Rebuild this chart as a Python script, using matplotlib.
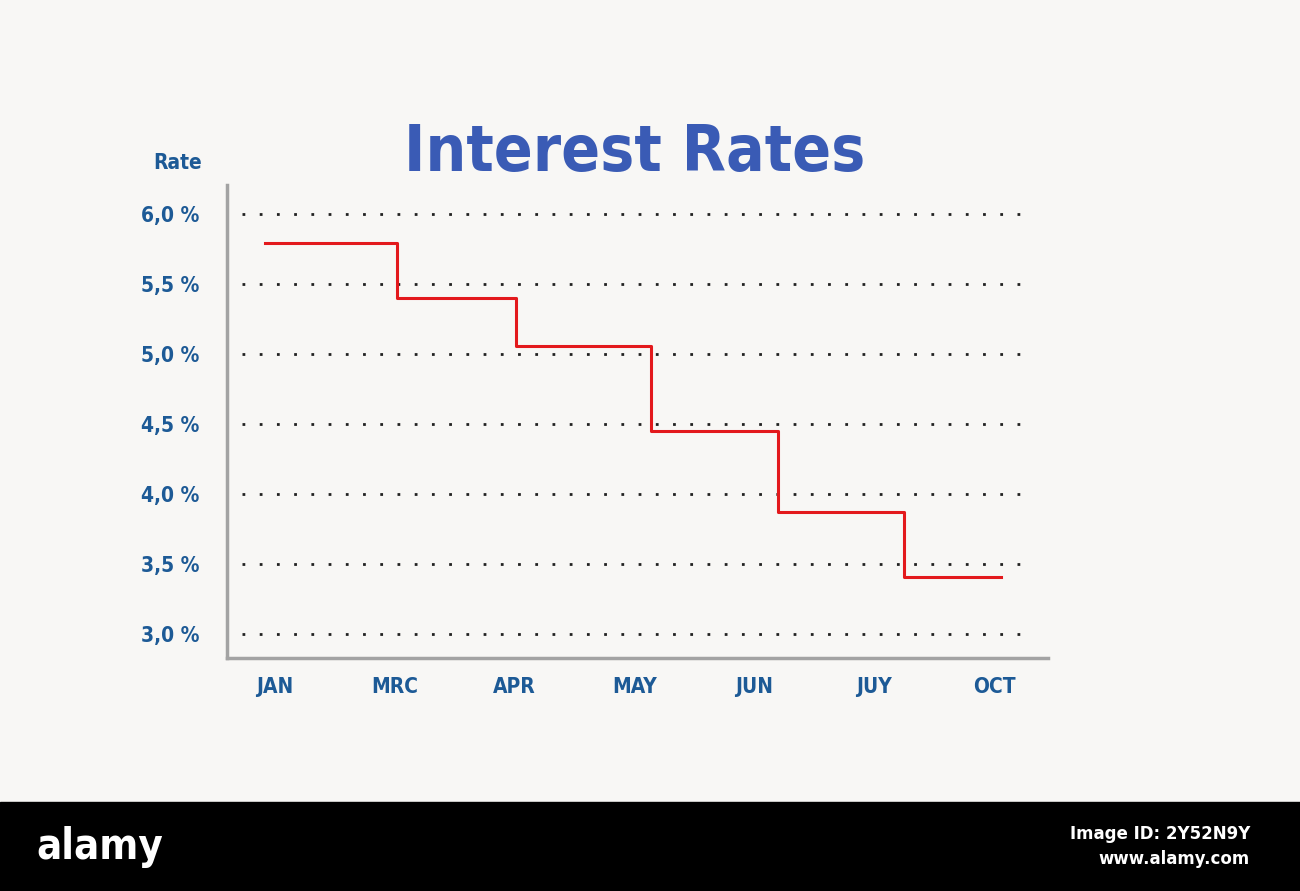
import matplotlib
matplotlib.use('Agg')
import matplotlib.pyplot as plt

months = ['JAN', 'MRC', 'APR', 'MAY', 'JUN', 'JUY', 'OCT']
step_x = [-0.08, 1.02, 2.01, 3.14, 4.2, 5.25, 6.06]
step_y = [5.79, 5.40, 5.06, 4.45, 3.87, 3.41, 3.41]
rate_ticks = [3.0, 3.5, 4.0, 4.5, 5.0, 5.5, 6.0]
rate_labels = ['3,0 %', '3,5 %', '4,0 %', '4,5 %', '5,0 %', '5,5 %', '6,0 %']

fam = ['DejaVu Sans']
blue = '#1d5a96'
bg = '#f8f7f5'

fig = plt.figure(figsize=(13, 8.91), dpi=100)
fig.patch.set_facecolor(bg)
ax = fig.add_axes([227/1300, 233/891, 821/1300, 473/891])
ax.set_facecolor(bg)

ax.hlines(rate_ticks, -0.275, 6.22, colors='#222222', lw=2.0,
          linestyles=[(0, (1, 5.2))])
ax.plot(step_x, step_y, drawstyle='steps-post', color='#e3191c', lw=2.2)

ax.set_xlim(-0.4, 6.45)
ax.set_ylim(2.829, 6.207)
ax.set_xticks(range(len(months)))
ax.set_xticklabels(months)
ax.set_yticks(rate_ticks)
ax.set_yticklabels(rate_labels)
ax.tick_params(length=0, pad=14, colors=blue, labelsize=15)
ax.tick_params(axis='y', pad=20)
for lab in ax.get_xticklabels() + ax.get_yticklabels():
    lab.set_family(fam); lab.set_fontweight('bold'); lab.set_fontstretch('condensed')
for s in ['top', 'right']:
    ax.spines[s].set_visible(False)
for s in ['left', 'bottom']:
    ax.spines[s].set_color('#a3a3a3'); ax.spines[s].set_linewidth(2.5)

fig.text(178/1300, 1 - 163/891, 'Rate', ha='center', va='center', color=blue,
         fontsize=15, fontweight='bold', family=fam, fontstretch='condensed')
fig.text(635/1300, 1 - 153/891, 'Interest Rates', ha='center', va='center',
         color='#3a5bb5', fontsize=46, fontweight='bold', family=fam,
         fontstretch='condensed')

# footer bar
fig.patches.append(plt.Rectangle((0, 0), 1, 89/891, transform=fig.transFigure,
                                 color='black', zorder=0))
fig.text(100/1300, 44/891, 'alamy', ha='center', va='center', color='white',
         fontsize=30, fontweight='bold', family=fam, fontstretch='condensed')
fig.text(1250/1300, 57/891, 'Image ID: 2Y52N9Y', ha='right', va='center',
         color='white', fontsize=12, fontweight='bold')
fig.text(1250/1300, 32/891, 'www.alamy.com', ha='right', va='center',
         color='white', fontsize=12, fontweight='bold')

fig.savefig('out.png', dpi=100, facecolor=bg)
